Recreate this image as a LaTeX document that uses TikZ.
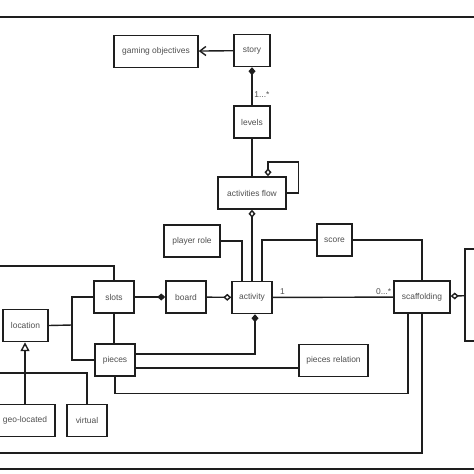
\documentclass[tikz,border=0pt]{standalone}
\usepackage{fontspec}
\setmainfont{Liberation Sans}
\usetikzlibrary{positioning,arrows.meta,calc}
\definecolor{umlline}{RGB}{30,30,30}
\definecolor{umltext}{RGB}{80,80,80}
\tikzset{
  cls/.style={draw=umlline, fill=white, line width=0.85pt, minimum height=0.64cm,
              inner sep=0pt, font=\fontsize{4.8}{5.8}\selectfont, text=umltext},
  link/.style={draw=umlline, line width=0.8pt},
  comp/.style={link, {Diamond[length=1.6mm,width=1.4mm]}-},
  aggr/.style={link, {Diamond[open,length=1.6mm,width=1.4mm,fill=white]}-},
  assoc/.style={link, -{Straight Barb[length=1.2mm,width=1.8mm]}},
  gener/.style={link, -{Triangle[open,length=1.8mm,width=1.8mm,fill=white]}},
  mult/.style={font=\fontsize{4.8}{5.8}\selectfont, text=umltext, inner sep=1pt},
  rule/.style={draw=umlline, line width=0.6pt}
}

\begin{document}
\begin{tikzpicture}[x=0.02cm, y=-0.02cm]
    \useasboundingbox (0,0) rectangle (474,474);
    \draw[rule] (0,17) -- (474,17);
    \draw[rule] (0,469) -- (474,469);
    % classes
    \node[cls, minimum width=1.68cm] (goal) at (156,51.5) {gaming objectives};
    \node[cls, minimum width=0.72cm] (story) at (252,50.5) {story};
    \node[cls, minimum width=0.72cm] (levels) at (252,122) {levels};
    \node[cls, minimum width=1.36cm] (flow) at (252,193) {activities flow};
    \node[cls, minimum width=1.12cm] (prole) at (192,241) {player role};
    \node[cls, minimum width=0.70cm] (score) at (334.5,240) {score};
    \node[cls, minimum width=0.80cm] (activity) at (252,297.5) {activity};
    \node[cls, minimum width=1.12cm] (scaff) at (422,297) {scaffolding};
    \node[cls, minimum width=0.80cm] (slots) at (114,297) {slots};
    \node[cls, minimum width=0.80cm] (board) at (186,297) {board};
    \node[cls, minimum width=0.90cm] (location) at (25.5,325.5) {location};
    \node[cls, minimum width=0.80cm] (pieces) at (115,360) {pieces};
    \node[cls, minimum width=1.38cm] (prel) at (333.5,360.5) {pieces relation};
    \node[cls, minimum width=1.20cm] (geo) at (25,420.5) {geo-located};
    \node[cls, minimum width=0.80cm] (virtual) at (87,420.5) {virtual};
    \node[cls, minimum width=0.90cm, minimum height=1.84cm] (side) at (487.5,295) {};
    \coordinate (jn) at (72,325);
    % links
    \draw[assoc] (story) -- (goal);
    \draw[comp] (story) -- node[mult, pos=0.72, right]{1...*} (levels);
    \draw[link] (levels) -- (flow);
    \draw[aggr] ($(flow.north)+(16,0)$) |- ($(flow.east)+(12,-31)$) |- (flow.east);
    \draw[aggr] (flow) -- (activity);
    \draw[link] (prole.east) -| ($(activity.north)+(-10,0)$);
    \draw[link] (score.west) -| ($(activity.north)+(10,0)$);
    \draw[link] (score.east) -| (scaff.north);
    \draw[link] (activity) -- node[mult, pos=0.08, above]{1} node[mult, pos=0.92, above]{0...*} (scaff);
    \draw[aggr] (scaff) -- (side);
    \draw[aggr] (activity) -- (board);
    \draw[comp] (board) -- (slots);
    \draw[link] (slots.south) -- (slots.south |- pieces.north);
    \draw[link] (location.east) -- (jn);
    \draw[link] (slots.west) -| (jn) |- (pieces.west);
    \draw[gener] (geo.north) -- (geo.north |- location.south);
    \draw[link] (virtual.north) |- (-5,373);
    \draw[link] (slots.north) |- (-5,266);
    \draw[comp] ($(activity.south)+(3,0)$) |- ($(pieces.east)+(0,-6)$);
    \coordinate (pr) at ($(pieces.east)+(0,8)$);
    \draw[link] (pr) -- (pr -| prel.west);
    \draw[link] (pieces.south) -- ++(0,17) -| ($(scaff.south)+(-14,0)$);
    \draw[link] (scaff.south) |- (-5,453);
\end{tikzpicture}
\end{document}
